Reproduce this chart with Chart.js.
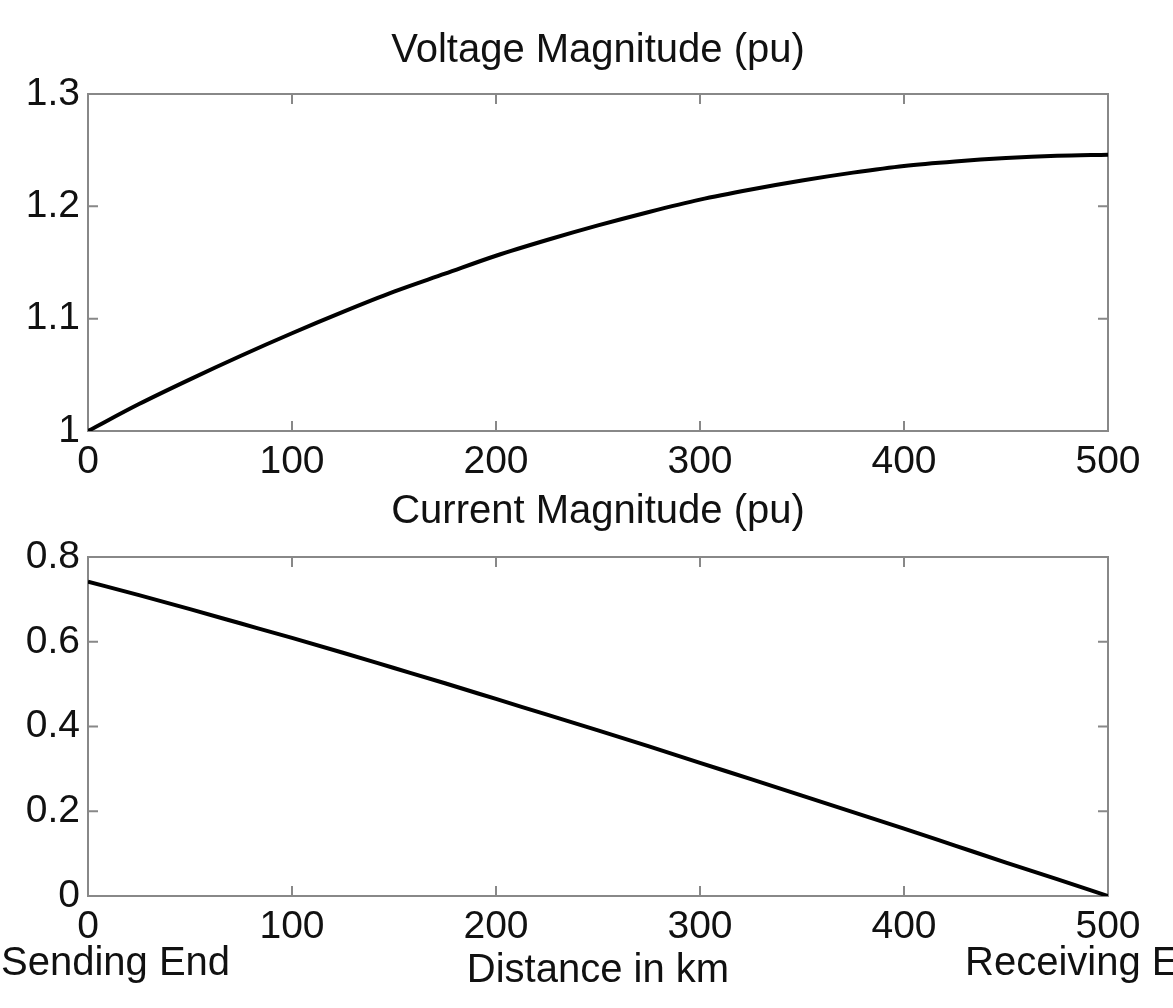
<!DOCTYPE html>
<html lang="en">

<head>
    <meta charset="UTF-8">
    <title>Voltage and Current Magnitude</title>
    <style>
        body {
            margin: 0;
            background-color: #fff;
        }

        .wrap {
            position: relative;
            width: 1173px;
            height: 1008px;
            overflow: hidden;
        }

        canvas {
            position: absolute;
            left: 0;
        }
    </style>
</head>

<body>
    <div class="wrap">
        <canvas id="voltageChart" width="1173" height="490" style="top: 0;"></canvas>
        <canvas id="currentChart" width="1173" height="518" style="top: 490px;"></canvas>
    </div>
    <script src="https://cdn.jsdelivr.net/npm/chart.js"></script>
    <script>
        // distance along the line (km)
        const distance = [0, 25, 50, 75, 100, 125, 150, 175, 200, 225, 250, 275, 300, 325, 350, 375, 400, 425, 450, 475, 500];
        // voltage magnitude (pu)
        const voltage = [1.000, 1.024, 1.046, 1.067, 1.087, 1.106, 1.124, 1.140, 1.156, 1.170, 1.183, 1.195, 1.206, 1.215, 1.223, 1.230, 1.236, 1.240, 1.243, 1.245, 1.246];
        // current magnitude (pu)
        const current = [0.742, 0.710, 0.677, 0.643, 0.609, 0.574, 0.538, 0.502, 0.465, 0.428, 0.391, 0.353, 0.314, 0.276, 0.237, 0.198, 0.159, 0.119, 0.079, 0.040, 0.000];

        const xTicks = [0, 100, 200, 300, 400, 500];
        const voltageTicks = [1, 1.1, 1.2, 1.3];
        const currentTicks = [0, 0.2, 0.4, 0.6, 0.8];

        const font = "'Liberation Sans', Arial, sans-serif";
        const textColor = '#111';
        const axisColor = '#888';
        const tickLen = 10;

        // matlab style box: border on all sides, ticks pointing inward, plus text
        const matlabBox = {
            id: 'matlabBox',
            beforeDatasetsDraw(chart) {
                const { ctx, chartArea: a, scales: { x, y } } = chart;
                ctx.save();
                ctx.strokeStyle = axisColor;
                ctx.lineWidth = 2;
                ctx.strokeRect(a.left, a.top, a.right - a.left, a.bottom - a.top);
                ctx.beginPath();
                x.ticks.forEach(t => {
                    const px = x.getPixelForValue(t.value);
                    ctx.moveTo(px, a.bottom); ctx.lineTo(px, a.bottom - tickLen);
                    ctx.moveTo(px, a.top); ctx.lineTo(px, a.top + tickLen);
                });
                y.ticks.forEach(t => {
                    const py = y.getPixelForValue(t.value);
                    ctx.moveTo(a.left, py); ctx.lineTo(a.left + tickLen, py);
                    ctx.moveTo(a.right, py); ctx.lineTo(a.right - tickLen, py);
                });
                ctx.stroke();
                ctx.restore();
            },
            afterDraw(chart, args, opts) {
                const { ctx, chartArea: a, scales: { x } } = chart;
                ctx.save();
                ctx.fillStyle = textColor;
                ctx.textBaseline = 'alphabetic';
                ctx.font = '40px ' + font;
                ctx.textAlign = 'center';
                ctx.fillText(opts.title, (a.left + a.right) / 2, opts.titleY);
                if (opts.xLabel) {
                    ctx.fillText(opts.xLabel, (a.left + a.right) / 2, opts.xLabelY);
                    ctx.textAlign = 'left';
                    ctx.fillText('Sending End', x.getPixelForValue(0) - 87, opts.endY);
                    ctx.fillText('Receiving End', x.getPixelForValue(500) - 143, opts.endY);
                }
                ctx.restore();
            }
        };

        function makeChart(id, values, yTicks, padding, pluginOpts) {
            const ctx = document.getElementById(id).getContext('2d');
            return new Chart(ctx, {
                type: 'line',
                data: {
                    datasets: [{
                        data: distance.map((d, i) => ({ x: d, y: values[i] })),
                        borderColor: '#000',
                        borderWidth: 4,
                        pointRadius: 0,
                        cubicInterpolationMode: 'monotone',
                        fill: false
                    }]
                },
                options: {
                    responsive: false,
                    animation: false,
                    layout: { padding: padding },
                    plugins: {
                        legend: { display: false },
                        tooltip: { enabled: false },
                        matlabBox: pluginOpts
                    },
                    scales: {
                        x: {
                            type: 'linear',
                            min: 0,
                            max: 500,
                            afterBuildTicks: s => { s.ticks = xTicks.map(v => ({ value: v })); },
                            afterFit: s => { s.height = 50; },
                            grid: { display: false, drawTicks: false },
                            border: { display: false },
                            ticks: {
                                padding: 8,
                                maxRotation: 0,
                                color: textColor,
                                font: { family: font, size: 39 }
                            }
                        },
                        y: {
                            min: yTicks[0],
                            max: yTicks[yTicks.length - 1],
                            afterBuildTicks: s => { s.ticks = yTicks.map(v => ({ value: v })); },
                            afterFit: s => { s.width = 88; },
                            grid: { display: false, drawTicks: false },
                            border: { display: false },
                            ticks: {
                                padding: 8,
                                color: textColor,
                                font: { family: font, size: 39 },
                                callback: v => String(v)
                            }
                        }
                    }
                },
                plugins: [matlabBox]
            });
        }

        makeChart('voltageChart', voltage, voltageTicks,
            { top: 94, right: 65, bottom: 9, left: 0 },
            { title: 'Voltage Magnitude (pu)', titleY: 62 });

        makeChart('currentChart', current, currentTicks,
            { top: 67, right: 65, bottom: 62, left: 0 },
            { title: 'Current Magnitude (pu)', titleY: 33, xLabel: 'Distance in km', xLabelY: 492, endY: 485 });
    </script>
</body>

</html>
